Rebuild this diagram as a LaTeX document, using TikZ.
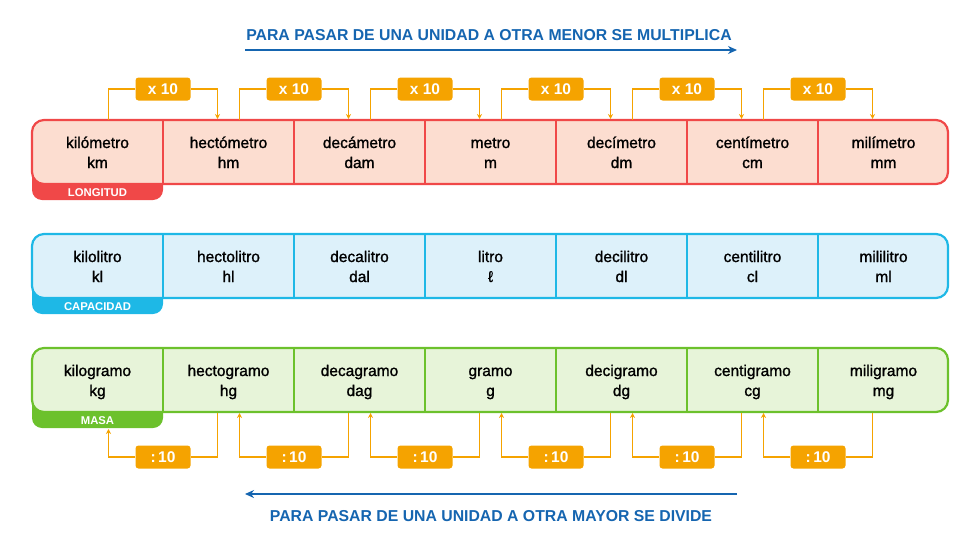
\documentclass[tikz,border=0pt]{standalone}
\usepackage{fontspec}
\setmainfont{Liberation Sans}
\newfontfamily\medfont[FakeBold=1.3]{Liberation Sans}
\usetikzlibrary{arrows.meta}
\definecolor{rb}{HTML}{F04848}\definecolor{rf}{HTML}{FCDDD0}
\definecolor{bb}{HTML}{1EB8E6}\definecolor{bf}{HTML}{DDF1FA}
\definecolor{gb}{HTML}{6CC12C}\definecolor{gf}{HTML}{E7F4D9}
\definecolor{org}{HTML}{F5A300}\definecolor{tb}{HTML}{1565B0}
\tikzset{unit/.style={font=\medfont\fontsize{15.5}{19}\selectfont,text depth=0pt,anchor=base,inner sep=0pt},
 tag/.style={fill=org,rounded corners=3pt,minimum width=55pt,minimum height=23pt,text=white,font=\bfseries\fontsize{15.5}{15}\selectfont,inner sep=0pt},
 conn/.style={org,line width=1.3pt},
 tabl/.style={text=white,font=\bfseries\fontsize{11.3}{11}\selectfont},
 title/.style={text=tb,font=\bfseries\fontsize{15.8}{16}\selectfont}}
\begin{document}
\begin{tikzpicture}[x=1pt,y=-1pt]
\useasboundingbox (0,0) rectangle (977,546);
\node[title] (t1) at (489,35) {PARA PASAR DE UNA UNIDAD A OTRA MENOR SE MULTIPLICA};
\coordinate (a1) at (245,50); \coordinate (a2) at (737,50);
\draw[tb,line width=2.5pt,-{Stealth[length=9pt,width=8pt]}] (a1) -- (a2);
\node[title] (t2) at (491,516) {PARA PASAR DE UNA UNIDAD A OTRA MAYOR SE DIVIDE};
\coordinate (b1) at (737,494); \coordinate (b2) at (245,494);
\draw[tb,line width=2.5pt,-{Stealth[length=9pt,width=8pt]}] (b1) -- (b2);
\foreach \y/\bc/\fc/\lab/\names in {120/rb/rf/LONGITUD/{kilómetro/km,hectómetro/hm,decámetro/dam,metro/m,decímetro/dm,centímetro/cm,milímetro/mm},
 234/bb/bf/CAPACIDAD/{kilolitro/kl,hectolitro/hl,decalitro/dal,litro/ℓ,decilitro/dl,centilitro/cl,mililitro/ml},
 348/gb/gf/MASA/{kilogramo/kg,hectogramo/hg,decagramo/dag,gramo/g,decigramo/dg,centigramo/cg,miligramo/mg}}{
  \fill[\bc,rounded corners=10pt] (32,\y+20) -- (32,\y+80) -- (163,\y+80) -- (163,\y+40) -- (100,\y+40) -- (32,\y+40) -- cycle;
  \fill[\bc] (32,\y+20) rectangle (163,\y+64);
  \draw[\bc,fill=\fc,line width=2.2pt,rounded corners=12pt] (32,\y) rectangle (948,\y+64);
  \node[tabl] at (97.5,\y+73) {\lab};
  \foreach \i in {1,...,6}{\draw[\bc,line width=2.2pt] (32+131*\i,\y) -- (32+131*\i,\y+64);}
  \foreach \n/\s [count=\i from 0] in \names {\node[unit] at (97.5+131*\i,\y+28) {\n};\node[unit] at (97.5+131*\i,\y+48) {\s};}
}
\foreach \i in {1,...,6}{
  \node[tag] (m\i) at (32+131*\i,89) {x 10};
  \draw[conn] (m\i.west) -- (97.5+131*\i-131+11,89) -- (97.5+131*\i-131+11,120);
  \draw[conn,-{Stealth[length=5pt,width=5pt]}] (m\i.east) -- (97.5+131*\i-11,89) -- (97.5+131*\i-11,119);
  \node[tag] (d\i) at (32+131*\i,457) {:\,10};
  \draw[conn] (d\i.east) -- (97.5+131*\i-11,457) -- (97.5+131*\i-11,413);
}
\draw[conn,-{Stealth[length=5pt,width=5pt]}] (d1.west) -- (108.5,457) -- (108.5,429);
\foreach \i in {2,...,6}{
  \draw[conn,-{Stealth[length=5pt,width=5pt]}] (d\i.west) -- (97.5+131*\i-131+11,457) -- (97.5+131*\i-131+11,413);
}
\end{tikzpicture}
\end{document}
